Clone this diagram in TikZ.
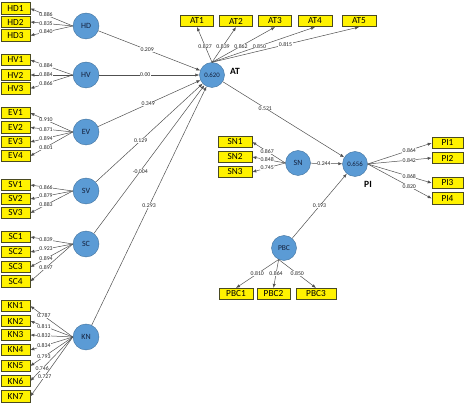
\documentclass[tikz,border=0pt]{standalone}
\usepackage{fontspec}
\setmainfont{Carlito}
\usetikzlibrary{arrows.meta}
\definecolor{lvfill}{HTML}{5B9BD5}
\definecolor{lvdraw}{HTML}{41719C}
\definecolor{lvtext}{HTML}{14213D}
\definecolor{edgecol}{HTML}{505050}
\definecolor{boxdraw}{HTML}{4A4A20}
\begin{document}
\begin{tikzpicture}[x=1pt,y=-1pt,
 lv/.style={circle,fill=lvfill,draw=lvdraw,line width=0.4pt,minimum size=26pt,inner sep=0pt,font=\fontsize{8}{9}\selectfont,text=lvtext},
 lvnum/.style={lv,minimum size=25pt,font=\fontsize{6.8}{8}\selectfont},
 ind/.style={rectangle,fill=yellow,draw=boxdraw,line width=0.6pt,minimum width=29pt,minimum height=11.5pt,inner sep=0pt,font=\fontsize{9.3}{10}\selectfont},
 arr/.style={draw=edgecol,line width=0.5pt,-{Latex[length=4pt,width=3.2pt]}},
 lbl/.style={fill=white,inner sep=0.4pt,font=\fontsize{5.8}{6}\selectfont,text=black!85},
 lvlab/.style={font=\bfseries\fontsize{9.5}{10}\selectfont,inner sep=0pt}
]
\useasboundingbox (0,0) rectangle (474,403);

% latent variables
\node[lv] (HD) at (86,26) {HD};
\node[lv] (HV) at (86,75) {HV};
\node[lv] (EV) at (86,132) {EV};
\node[lv] (SV) at (86,191) {SV};
\node[lv] (SC) at (86,244) {SC};
\node[lv] (KN) at (86,337) {KN};
\node[lvnum] (AT) at (212,75) {0.620};
\node[lv,minimum size=25pt] (SN) at (298,163) {SN};
\node[lvnum] (PI) at (355,164) {0.656};
\node[lv,minimum size=25pt,font=\fontsize{7.5}{8}\selectfont] (PBC) at (284,248) {PBC};
\node[lvlab] (ATl) at (235,71) {AT};
\node[lvlab] (PIl) at (368,184) {PI};

% left indicators
\node[ind] (HD1) at (15.5,8.5) {HD1};
\node[ind] (HD2) at (15.5,22) {HD2};
\node[ind] (HD3) at (15.5,35.5) {HD3};
\node[ind] (HV1) at (15.5,60) {HV1};
\node[ind] (HV2) at (15.5,75) {HV2};
\node[ind] (HV3) at (15.5,88.5) {HV3};
\node[ind] (EV1) at (15.5,113) {EV1};
\node[ind] (EV2) at (15.5,127.5) {EV2};
\node[ind] (EV3) at (15.5,142) {EV3};
\node[ind] (EV4) at (15.5,156) {EV4};
\node[ind] (SV1) at (15.5,185) {SV1};
\node[ind] (SV2) at (15.5,199) {SV2};
\node[ind] (SV3) at (15.5,213) {SV3};
\node[ind] (SC1) at (15.5,237) {SC1};
\node[ind] (SC2) at (15.5,252) {SC2};
\node[ind] (SC3) at (15.5,267) {SC3};
\node[ind] (SC4) at (15.5,281.5) {SC4};
\node[ind] (KN1) at (15.5,306) {KN1};
\node[ind] (KN2) at (15.5,321) {KN2};
\node[ind] (KN3) at (15.5,335) {KN3};
\node[ind] (KN4) at (15.5,350) {KN4};
\node[ind] (KN5) at (15.5,366) {KN5};
\node[ind] (KN6) at (15.5,381) {KN6};
\node[ind] (KN7) at (15.5,396.5) {KN7};

% AT indicators
\node[ind,minimum width=33pt] (AT1) at (197,21) {AT1};
\node[ind,minimum width=33pt] (AT2) at (236,21) {AT2};
\node[ind,minimum width=33pt] (AT3) at (275,21) {AT3};
\node[ind,minimum width=34pt] (AT4) at (315,21) {AT4};
\node[ind,minimum width=34pt] (AT5) at (359,21) {AT5};

% SN indicators
\node[ind,minimum width=34pt] (SN1) at (235,142) {SN1};
\node[ind,minimum width=34pt] (SN2) at (235,157) {SN2};
\node[ind,minimum width=34pt] (SN3) at (235,172) {SN3};

% PI indicators
\node[ind,minimum width=31pt] (PI1) at (447.5,143) {PI1};
\node[ind,minimum width=31pt] (PI2) at (447.5,158) {PI2};
\node[ind,minimum width=31pt] (PI3) at (447.5,183) {PI3};
\node[ind,minimum width=31pt] (PI4) at (447.5,198.5) {PI4};

% PBC indicators
\node[ind,minimum width=34pt] (PBC1) at (236,294) {PBC1};
\node[ind,minimum width=33pt] (PBC2) at (273.5,294) {PBC2};
\node[ind,minimum width=40pt] (PBC3) at (316,294) {PBC3};

% structural paths
\draw[arr] (HD) -- node[lbl,pos=.48]{0.209} (AT);
\draw[arr] (HV) -- node[lbl,pos=.46]{0.00} (AT);
\draw[arr] (EV) -- node[lbl,pos=.49]{0.349} (AT);
\draw[arr] (SV) -- node[lbl,pos=.42]{0.129} (AT);
\draw[arr] (SC) -- node[lbl,pos=.42]{-0.004} (AT);
\draw[arr] (KN) -- node[lbl,pos=.5]{0.293} (AT);
\draw[arr] (AT) -- node[lbl,pos=.35]{0.521} (PI);
\draw[arr] (SN) -- node[lbl,pos=.42]{0.244} (PI);
\draw[arr] (PBC) -- node[lbl,pos=.5]{0.193} (PI);

% outer loadings left
\draw[arr] (HD.west) -- node[lbl,pos=.63]{0.886} (HD1.east);
\draw[arr] (HD.west) -- node[lbl,pos=.63]{0.835} (HD2.east);
\draw[arr] (HD.west) -- node[lbl,pos=.63]{0.840} (HD3.east);
\draw[arr] (HV.west) -- node[lbl,pos=.63]{0.884} (HV1.east);
\draw[arr] (HV.west) -- node[lbl,pos=.63]{0.884} (HV2.east);
\draw[arr] (HV.west) -- node[lbl,pos=.63]{0.866} (HV3.east);
\draw[arr] (EV.west) -- node[lbl,pos=.63]{0.910} (EV1.east);
\draw[arr] (EV.west) -- node[lbl,pos=.63]{0.871} (EV2.east);
\draw[arr] (EV.west) -- node[lbl,pos=.63]{0.894} (EV3.east);
\draw[arr] (EV.west) -- node[lbl,pos=.63]{0.801} (EV4.east);
\draw[arr] (SV.west) -- node[lbl,pos=.63]{0.866} (SV1.east);
\draw[arr] (SV.west) -- node[lbl,pos=.63]{0.879} (SV2.east);
\draw[arr] (SV.west) -- node[lbl,pos=.63]{0.883} (SV3.east);
\draw[arr] (SC.west) -- node[lbl,pos=.63]{0.839} (SC1.east);
\draw[arr] (SC.west) -- node[lbl,pos=.63]{0.923} (SC2.east);
\draw[arr] (SC.west) -- node[lbl,pos=.63]{0.894} (SC3.east);
\draw[arr] (SC.west) -- node[lbl,pos=.63]{0.897} (SC4.east);
\draw[arr] (KN.west) -- node[lbl,pos=.68]{0.787} (KN1.east);
\draw[arr] (KN.west) -- node[lbl,pos=.68]{0.811} (KN2.east);
\draw[arr] (KN.west) -- node[lbl,pos=.68]{0.832} (KN3.east);
\draw[arr] (KN.west) -- node[lbl,pos=.68]{0.834} (KN4.east);
\draw[arr] (KN.west) -- node[lbl,pos=.68]{0.793} (KN5.east);
\draw[arr] (KN.west) -- node[lbl,pos=.72]{0.746} (KN6.east);
\draw[arr] (KN.west) -- node[lbl,pos=.66]{0.727} (KN7.east);

% outer loadings AT
\draw[arr] (AT.north) -- node[lbl,pos=.46]{0.827} (AT1.south);
\draw[arr] (AT.north) -- node[lbl,pos=.46]{0.839} (AT2.south);
\draw[arr] (AT.north) -- node[lbl,pos=.46]{0.862} (AT3.south);
\draw[arr] (AT.north) -- node[lbl,pos=.46]{0.850} (AT4.south);
\draw[arr] (AT.north) -- node[lbl,pos=.5]{0.815} (AT5.south);

% outer loadings SN
\draw[arr] (SN.west) -- node[lbl,pos=.55]{0.867} (SN1.east);
\draw[arr] (SN.west) -- node[lbl,pos=.55]{0.848} (SN2.east);
\draw[arr] (SN.west) -- node[lbl,pos=.55]{0.745} (SN3.east);

% outer loadings PI
\draw[arr] (PI.east) -- node[lbl,pos=.65]{0.864} (PI1.west);
\draw[arr] (PI.east) -- node[lbl,pos=.65]{0.842} (PI2.west);
\draw[arr] (PI.east) -- node[lbl,pos=.65]{0.868} (PI3.west);
\draw[arr] (PI.east) -- node[lbl,pos=.65]{0.820} (PI4.west);

% outer loadings PBC
\draw[arr] (PBC.-115) -- node[lbl,pos=.5]{0.810} (PBC1.north);
\draw[arr] (PBC.-115) -- node[lbl,pos=.5]{0.864} (PBC2.north);
\draw[arr] (PBC.-115) -- node[lbl,pos=.5]{0.850} (PBC3.north);
\end{tikzpicture}
\end{document}
